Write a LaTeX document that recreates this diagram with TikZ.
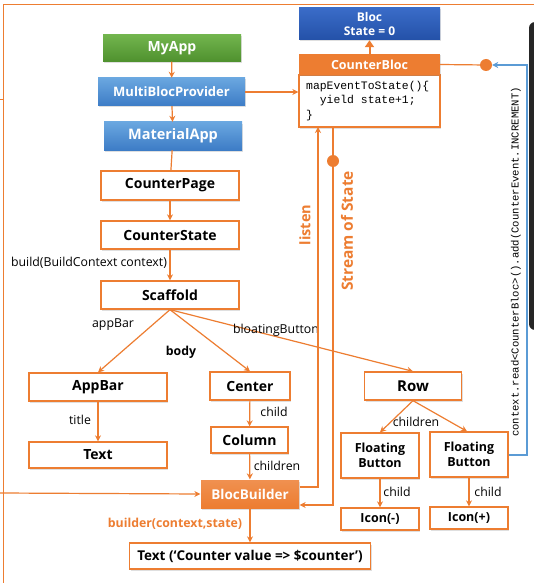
\documentclass[tikz,border=0pt]{standalone}
\usepackage{fontspec}
\setmainfont{Open Sans}
\newfontfamily\codefont{Liberation Mono}
\usetikzlibrary{arrows.meta,calc,shadows}
\definecolor{org}{HTML}{ED7D31}
\definecolor{grn1}{HTML}{72B54E}
\definecolor{grn2}{HTML}{4F912E}
\definecolor{blu1}{HTML}{6AA7E0}
\definecolor{blu2}{HTML}{3D7CC6}
\definecolor{dblu1}{HTML}{3A6CC8}
\definecolor{dblu2}{HTML}{2451A8}
\definecolor{lblu}{HTML}{5B9BD5}
\tikzset{
  shd/.style={drop shadow={shadow xshift=1pt, shadow yshift=-1.5pt, opacity=0.25}},
  wbox/.style={draw=org, line width=1.3pt, fill=white, inner sep=0pt, align=center, shd,
    font=\bfseries\fontsize{14}{16}\selectfont, minimum width=138pt, minimum height=28pt},
  gbox/.style={inner sep=0pt, align=center, text=white, top color=grn1, bottom color=grn2, shd,
    font=\bfseries\fontsize{14}{16}\selectfont, minimum width=138pt, minimum height=27pt},
  bbox/.style={inner sep=0pt, align=center, text=white, top color=blu1, bottom color=blu2, shd,
    font=\bfseries\fontsize{13}{15}\selectfont, minimum width=138pt, minimum height=28pt},
  arr/.style={draw=org, line width=1.2pt, -{Stealth[length=6pt,width=6pt]}},
  ln/.style={draw=org, line width=1.2pt},
  lbl/.style={font=\fontsize{12.3}{14}\selectfont, inner sep=0pt},
  olbl/.style={font=\bfseries\fontsize{12.3}{14}\selectfont, text=org, inner sep=0pt},
  dot/.style={circle, fill=org, minimum size=12pt, inner sep=0pt},
}
\begin{document}
\begin{tikzpicture}[x=1pt,y=-1pt]
\clip (0,0) rectangle (534,583);
\fill[white] (0,0) rectangle (534,583);
% phone bezel at right edge
\fill[black!85, rounded corners=6pt] (529,22) rectangle (560,330);
% outer frame
\coordinate (fr1) at (534,5);
\coordinate (fr2) at (3,5);
\coordinate (fr3) at (3,583);
\coordinate (bl) at (0,493);
\draw[draw=org, line width=1pt] (fr1) -- (fr2) -- (fr3);
\draw[draw=org, line width=1pt] (0,100) -- (3.5,100);

% nodes
\node[gbox] (myapp) at (172,48) {MyApp};
\node[bbox, minimum width=147pt] (mbp) at (171.5,92) {MultiBlocProvider};
\node[bbox, font=\bfseries\fontsize{14.5}{16}\selectfont] (mat) at (173,136) {MaterialApp};
\node[wbox, minimum height=29pt] (cpage) at (170,185.5) {CounterPage};
\node[wbox] (cstate) at (170,235) {CounterState};
\node[wbox] (scaf) at (170,295) {Scaffold};
\node[wbox] (appbar) at (98,387) {AppBar};
\node[wbox, minimum width=80pt] (center) at (250,386) {Center};
\node[wbox, minimum width=77pt, minimum height=26pt] (column) at (249.5,440) {Column};
\node[wbox, minimum height=26pt] (text1) at (98,455) {Text};
\node[wbox, draw=none, top color=org!85, bottom color=org, text=white, minimum width=98pt,
  font=\bfseries\fontsize{13.5}{16}\selectfont] (bb) at (250,494) {BlocBuilder};
\node[wbox, minimum width=241pt, minimum height=26pt, font=\bfseries\fontsize{13.5}{16}\selectfont] (text2) at (250,556) {Text (‘Counter value => \$counter’)};
\node[wbox, minimum width=97pt, font=\bfseries\fontsize{15}{17}\selectfont] (row) at (413,386) {Row};
\node[wbox, minimum width=78pt, minimum height=45pt, font=\bfseries\fontsize{12.5}{15}\selectfont] (fbl) at (380,455.5) {Floating\\Button};
\node[wbox, minimum width=78pt, minimum height=45pt, font=\bfseries\fontsize{12.5}{15}\selectfont] (fbr) at (469,454.5) {Floating\\Button};
\node[wbox, minimum width=78pt, minimum height=22pt, font=\bfseries\fontsize{12.5}{14}\selectfont] (iconm) at (380,519) {Icon(-)};
\node[wbox, minimum width=78pt, minimum height=22pt, font=\bfseries\fontsize{12.5}{14}\selectfont] (iconp) at (469,518) {Icon(+)};
\node[inner sep=0pt, top color=dblu1, bottom color=dblu2, text=white, align=center, shd,
  minimum width=141pt, minimum height=32pt, font=\bfseries\fontsize{12}{14}\selectfont] (bloc) at (369.5,24) {Bloc\\State = 0};
\node[draw=org, line width=1.3pt, fill=white, minimum width=141pt, minimum height=52pt, inner sep=0pt, shd] (cbb) at (369.5,101) {};
\node[inner sep=0pt, fill=org, text=white, minimum width=141pt, minimum height=21pt, shd,
  font=\bfseries\fontsize{12.5}{14}\selectfont] (cbh) at (369.5,64.5) {CounterBloc};
\node[anchor=north west, inner sep=0pt, align=left, font=\codefont\fontsize{11.4}{14.5}\selectfont] (code) at (306,81)
  {mapEventToState()\{\\\hspace*{1.2em}yield state+1;\\\}};

% tree connectors
\draw[arr] (myapp) -- (mbp);
\draw[arr] (mbp) -- (mat);
\draw[ln] (mat) -- (cpage);
\draw[arr] (cpage) -- (cstate);
\draw[arr] (cstate) -- (scaf);
\draw[arr] (scaf.south) -- (appbar.north);
\draw[arr] (scaf.south) -- (center.north);
\draw[arr] (scaf.south) -- (row.north);
\draw[arr] (appbar) -- (text1);
\draw[arr] (center) -- (column);
\draw[arr] (column) -- (bb);
\draw[arr] (bb) -- (text2);
\draw[arr] (row.south) -- (fbl.north);
\draw[arr] (row.south) -- ($(fbr.north)+(-2,0)$);
\draw[arr] (fbl) -- (iconm);
\draw[arr] (fbr) -- (iconp);
\draw[arr] (bl) -- (bb.west);
\draw[arr] (mbp.east) -- (cbb.west |- mbp.east);
\draw[draw=org, line width=2pt, -{Triangle[length=7pt,width=9pt]}] (cbh.north) -- (bloc.south);

% labels
\node[lbl] (l1) at (89,263) {build(BuildContext context)};
\node[lbl] (l2) at (113,325) {appBar};
\node[lbl, font=\bfseries\fontsize{12.3}{14}\selectfont] (l3) at (181,352) {body};
\node[lbl] (l4) at (276,330) {bloatingButton};
\node[lbl] (l5) at (80,420) {title};
\node[lbl] (l6) at (274,412) {child};
\node[lbl] (l7) at (277,466) {children};
\node[lbl] (l8) at (416,422) {children};
\node[lbl] (l9) at (397,492) {child};
\node[lbl] (l10) at (488,492) {child};
\node[olbl] (l11) at (175,524) {builder(context,state)};

% counter bloc event path
\node[dot] (d1) at (486,65) {};
\draw[ln] (cbh.east) -- (d1);
\coordinate (b1) at (527,455);
\coordinate (b2) at (527,65);
\draw[draw=lblu, line width=1.2pt, -{Stealth[length=6pt,width=6pt]}] (fbr.east |- b1) -- (b1) -- (b2) -- (d1.east);
\node[rotate=90, inner sep=0pt, font=\codefont\fontsize{10.6}{12}\selectfont] (ctx) at (516,262)
  {context.read<CounterBloc>().add(CounterEvent.INCREMENT)};

% listen path
\coordinate (ls1) at (318,487);
\coordinate (ls2) at (318,127);
\draw[arr] (bb.east |- ls1) -- (ls1) -- (ls2);
\node[olbl, rotate=90, font=\bfseries\fontsize{14.5}{16}\selectfont] (lis) at (305,225) {listen};

% stream of state
\coordinate (s0) at (333,127);
\node[dot] (d2) at (333,161) {};
\coordinate (s1) at (333,505);
\draw[ln] (s0) -- (d2);
\draw[arr] (d2) -- (s1) -- (bb.east |- s1);
\node[olbl, rotate=90, font=\bfseries\fontsize{15.5}{17}\selectfont] (sos) at (347,231) {Stream of State};
\end{tikzpicture}
\end{document}
